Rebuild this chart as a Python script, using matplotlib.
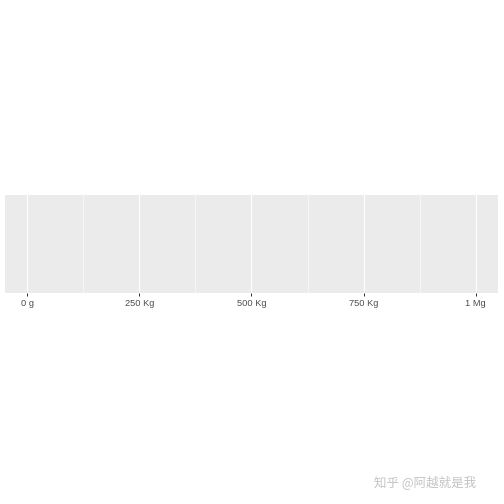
import matplotlib
matplotlib.use("Agg")
import matplotlib.pyplot as plt

# Data
breaks = [0, 250, 500, 750, 1000]
tick_labels = ["0 g", "250 Kg", "500 Kg", "750 Kg", "1 Mg"]
minor_breaks = [125, 375, 625, 875]
x_limits = [-50, 1050]
watermark = "知乎 @阿越就是我"

plt.rcParams['font.family'] = ['Liberation Sans', 'Noto Sans CJK SC', 'DejaVu Sans']

fig = plt.figure(figsize=(7, 7), dpi=72)
fig.patch.set_facecolor("white")
W, H = 504, 504
ax = fig.add_axes([5 / W, (504 - 293) / H, (498 - 5) / W, (293 - 194.5) / H])
ax.set_facecolor("#EBEBEB")
ax.set_xlim(*x_limits)
ax.set_ylim(0, 1)
for s in ax.spines.values():
    s.set_visible(False)

ax.set_xticks(breaks)
ax.set_xticklabels(tick_labels, fontsize=9.2, color="#4D4D4D")
ax.set_xticks(minor_breaks, minor=True)
ax.tick_params(axis="x", which="major", length=2.75, width=1.0, color="#333333", pad=3.5)
ax.tick_params(axis="x", which="minor", length=0)
ax.set_yticks([])
ax.grid(True, axis="x", which="major", color="white", linewidth=1.1)
ax.grid(True, axis="x", which="minor", color="white", linewidth=0.55)
ax.set_axisbelow(True)

fig.text(476 / W, 1 - 483 / H, watermark, ha="right", va="center",
         fontsize=12.5, color="#C4C4C4",
         family=['Noto Sans CJK SC', 'DejaVu Sans'])

fig.savefig("out.png", dpi=72, facecolor="white")
